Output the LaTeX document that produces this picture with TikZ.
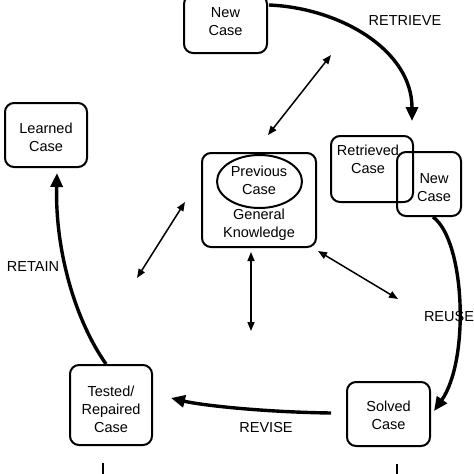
\documentclass[tikz,border=0pt]{standalone}
\usepackage{fontspec}
\setmainfont{Liberation Sans}
\usetikzlibrary{arrows.meta,calc,shapes.geometric}
\tikzset{
  casebox/.style={draw, line width=2pt, rounded corners=9pt, inner sep=0pt},
  lbl/.style={align=center, inner sep=0pt, font=\fontsize{14.5}{18}\selectfont},
  bigarrow/.style={line width=3.4pt, -{Triangle[length=14pt,width=12pt]}},
  twoway/.style={line width=1.5pt, {Triangle[length=9pt,width=7pt]}-{Triangle[length=9pt,width=7pt]}},
}
\begin{document}
\begin{tikzpicture}[x=1pt,y=-1pt]
\useasboundingbox (0,0) rectangle (474,474);
% boxes
\node[casebox, minimum width=83pt, minimum height=58pt] (newtop) at (225.5,24) {};
\node[lbl] (newtoptext) at (225.5,22) {New\\Case};
\node[casebox, minimum width=82pt, minimum height=66pt] (retr) at (372,169) {};
\node[lbl] (retrtext) at (368,159) {Retrieved\\Case};
\node[casebox, minimum width=64pt, minimum height=64pt] (newin) at (429,184) {};
\node[lbl] (newintext) at (434,188) {New\\Case};
\node[casebox, minimum width=114pt, minimum height=94pt] (gk) at (259,200) {};
\node[draw, line width=2pt, ellipse, minimum width=85pt, minimum height=53pt, inner sep=0pt] (prev) at (259.5,181.5) {};
\node[lbl] (prevtext) at (259,180) {Previous\\Case};
\node[lbl] (gktext) at (259,225) {General\\Knowledge};
\node[casebox, minimum width=82pt, minimum height=64pt] (learned) at (46,135) {};
\node[lbl] (learnedtext) at (46,137) {Learned\\Case};
\node[casebox, minimum width=82pt, minimum height=80pt] (tested) at (111,405) {};
\node[lbl] (testedtext) at (111,409) {Tested/\\Repaired\\Case};
\node[casebox, minimum width=83pt, minimum height=64pt] (solved) at (388.5,414) {};
\node[lbl] (solvedtext) at (388.5,415.5) {Solved\\Case};
% labels
\node[lbl] (retrieve) at (405,21) {RETRIEVE};
\node[lbl] (retain) at (33,267) {RETAIN};
\node[lbl] (revise) at (266,428) {REVISE};
\node[lbl] (reuse) at (449,317) {REUSE};
% main cycle arrows
\draw[bigarrow] ($(newtop.east)+(1,-19)$) .. controls (340,8) and (412,50) .. ($(retr.north)+(40,-14)$);
\draw[bigarrow] ($(newin.south)+(4,0)$) .. controls (465,240) and (470,360) .. ($(solved.east)+(3,-3)$);
\draw[bigarrow] ($(solved.west)+(-15,-1)$) .. controls (260,412) and (200,405) .. ($(tested.east)+(18,-7)$);
\draw[bigarrow] ($(tested.north)+(-5,0)$) .. controls (75,320) and (55,250) .. ($(learned.south)+(11,5)$);
% knowledge arrows
\coordinate (k1a) at (331,55);
\coordinate (k1b) at (268,135);
\coordinate (k2a) at (185,202);
\coordinate (k2b) at (137,278);
\coordinate (k3a) at (251,252);
\coordinate (k3b) at (251,331);
\coordinate (k4a) at (318,251);
\coordinate (k4b) at (398,299);
\draw[twoway] (k1a) -- (k1b);
\draw[twoway] (k2a) -- (k2b);
\draw[twoway] (k3a) -- (k3b);
\draw[twoway] (k4a) -- (k4b);
% stubs at bottom
\coordinate (s1) at (103,474);
\coordinate (s2) at (397,474);
\draw[line width=2pt] ($(tested.south)+(-8,17)$) -- (s1);
\draw[line width=2pt] ($(solved.south)+(8.5,17)$) -- (s2);
\end{tikzpicture}
\end{document}
